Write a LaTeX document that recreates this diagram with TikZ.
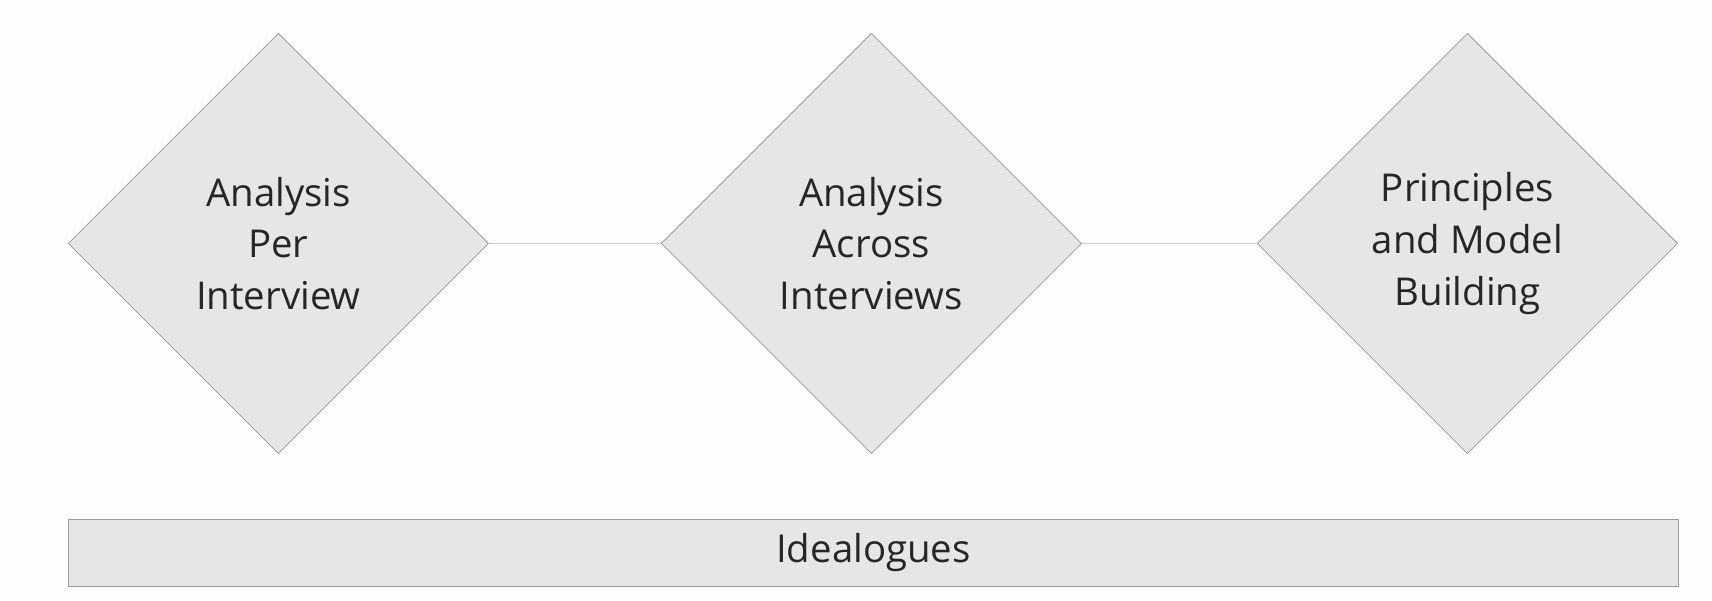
\documentclass[tikz,border=0pt]{standalone}
\usepackage{fontspec}
\setmainfont{Open Sans}
\usetikzlibrary{shapes.geometric, positioning}
\definecolor{bg}{HTML}{FDFDFD}
\definecolor{boxfill}{HTML}{E6E6E6}
\definecolor{edge}{HTML}{999999}

\begin{document}
\begin{tikzpicture}[line join=round,
    stage/.style={diamond, draw=edge, fill=boxfill, line width=0.4pt,
        minimum width=7.7cm, minimum height=7.7cm, inner sep=0pt,
        align=center, font=\fontsize{20}{27}\selectfont, text=black!85},
    base/.style={rectangle, draw=edge, fill=boxfill, line width=0.4pt,
        minimum width=29.48cm, minimum height=1.22cm,
        font=\fontsize{20}{27}\selectfont, text=black!85},
    link/.style={draw=black!20, line width=0.4pt}]

    % page background
    \fill[bg] (0,0) rectangle (31.36,11.0);
    \useasboundingbox (0,0) rectangle (31.36,11.0);

    % the three stages
    \node[stage] (per) at (5.1,6.54) {Analysis\\Per\\Interview};
    \node[stage] (across) at (15.96,6.54) {Analysis\\Across\\Interviews};
    \node[stage] (model) at (26.88,6.54) {Principles\\and Model\\Building};

    % links between stages
    \draw[link] (per.east) -- (across.west);
    \draw[link] (across.east) -- (model.west);

    % bottom bar
    \node[base] (ideal) at (16.0,0.87) {Idealogues};

\end{tikzpicture}
\end{document}
